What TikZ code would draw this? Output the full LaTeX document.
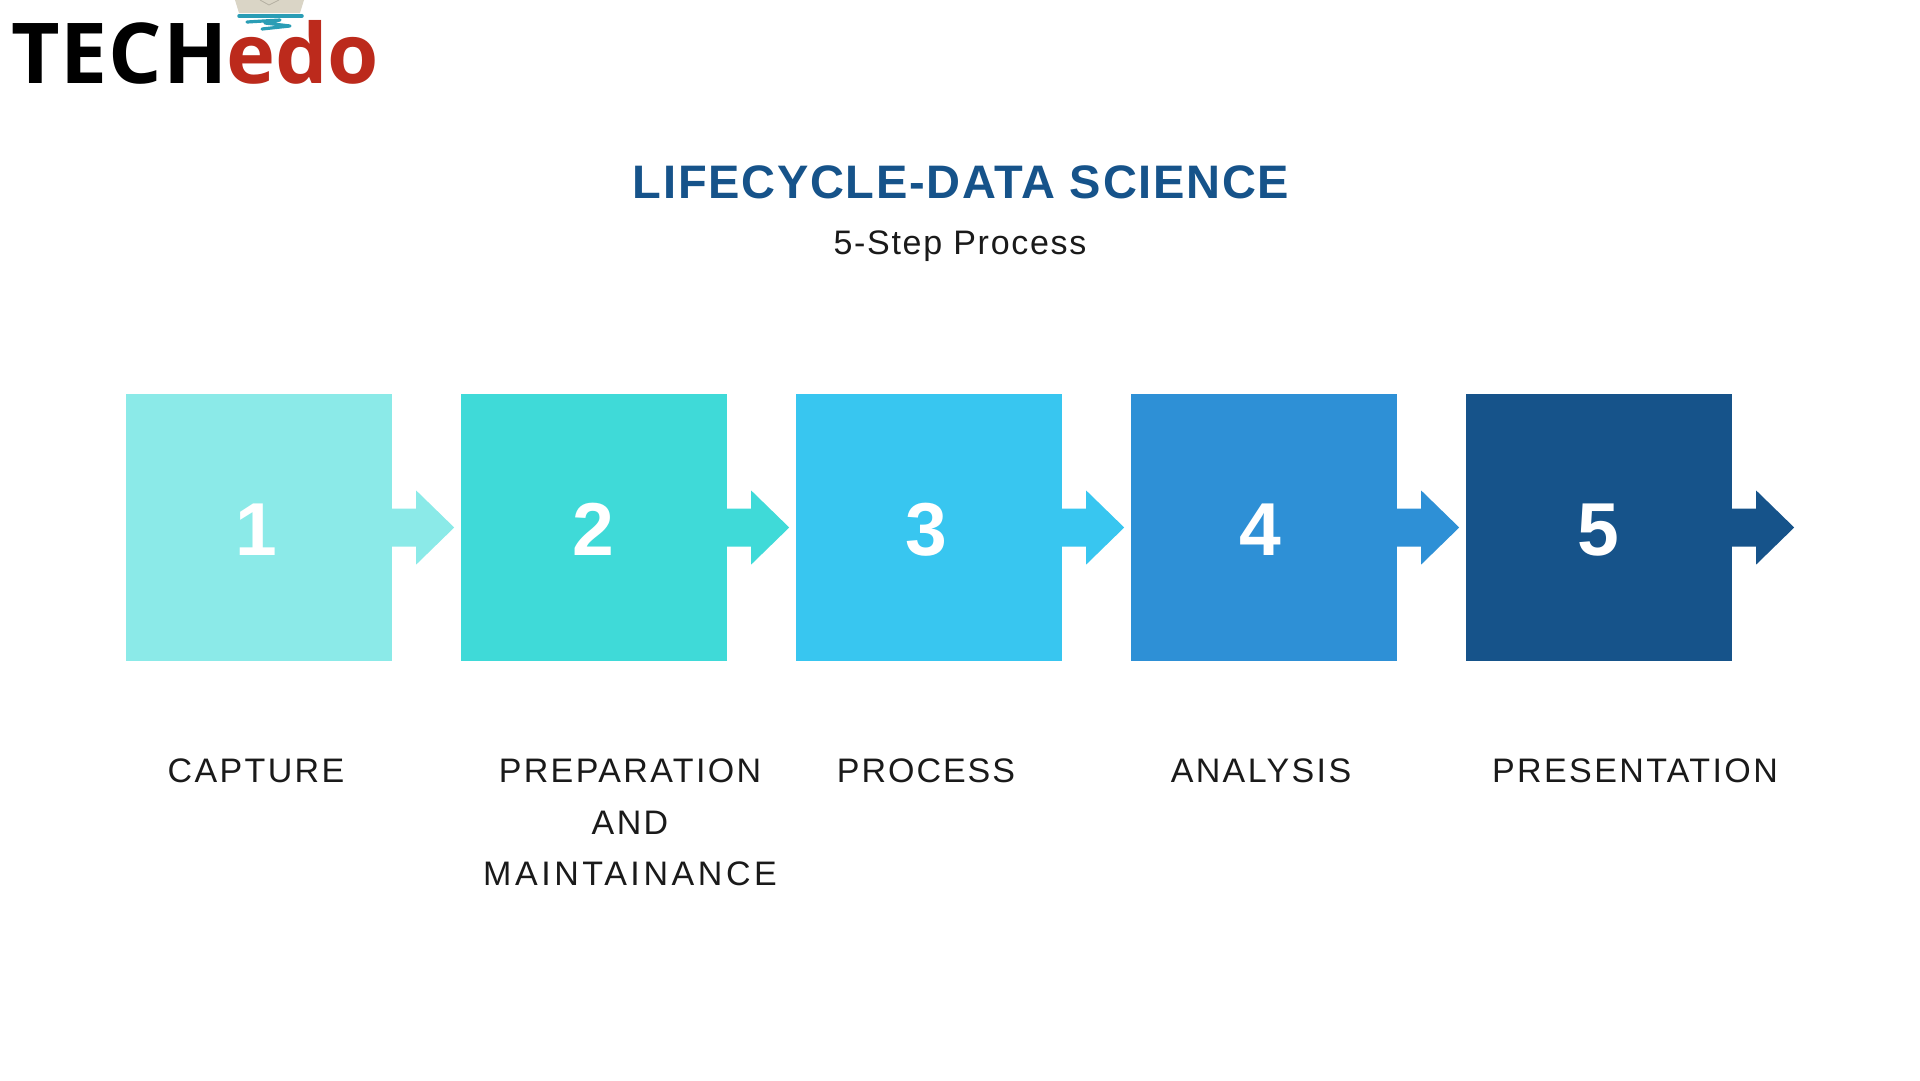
\documentclass[tikz,border=0pt]{standalone}
\usepackage{fontspec}
\setmainfont{Liberation Sans}
\newfontfamily\labelfont[LetterSpace=7]{Liberation Sans}
\newfontfamily\widelabelfont[LetterSpace=10.5]{Liberation Sans}
\newfontfamily\tightlabelfont[LetterSpace=5.8]{Liberation Sans}
\newfontfamily\subfont[LetterSpace=5]{Liberation Sans}
\newfontfamily\titlefont[LetterSpace=3.6]{Liberation Sans}
\newfontfamily\logofont[LetterSpace=1.2]{Open Sans}
\newfontfamily\logofontb{Open Sans}
\definecolor{cA}{HTML}{8BEAE8}
\definecolor{cB}{HTML}{3FDAD8}
\definecolor{cC}{HTML}{38C6F0}
\definecolor{cD}{HTML}{2E90D6}
\definecolor{cE}{HTML}{16538A}
\definecolor{ink}{HTML}{1A1A1A}
\definecolor{logored}{HTML}{BC2A1C}
\definecolor{boat}{HTML}{DAD5C6}
\definecolor{fold}{HTML}{B5B0A2}
\definecolor{wave}{HTML}{2A9DB5}
\tikzset{
  box/.style={rectangle,inner sep=0pt,minimum width=266pt,minimum height=267pt},
  num/.style={anchor=base,text=white,font=\fontsize{75}{75}\selectfont\bfseries},
  lab/.style={anchor=base,text=ink,align=center,font=\fontsize{34}{51.5}\selectfont\labelfont},
}
\newcommand{\steparrow}[2]{%
  \fill[#2] (#1.east) ++(0,-19) -- ++(24,0) -- ++(0,-18) -- ++(38,37) -- ++(-38,37) -- ++(0,-18) -- ++(-24,0) -- cycle;}
\begin{document}
\begin{tikzpicture}[x=1pt,y=-1pt]
\useasboundingbox[fill=white] (0,0) rectangle (1920,1080);
% logo
\fill[boat] (235,0) -- (304,0) -- (300,13) -- (239,13) -- cycle;
\draw[fold,line width=0.8pt] (260,0) -- (269,5) -- (279,0);
\draw[wave,line width=3.5pt,line cap=round] (239,16) -- (302,16);
\draw[wave,line width=3.2pt,line cap=round,line join=round] (247,22) -- (280,20) -- (265,23) -- (290,26) -- (262,29);
\node[anchor=base west,inner sep=0pt,text=black,font=\fontsize{84}{84}\selectfont\logofont\bfseries] (logoa) at (11,83) {TECH};
\node[anchor=base west,inner sep=0pt,text=logored,font=\fontsize{83}{83}\selectfont\logofontb\bfseries] (logob) at (226,83) {edo};
% heading
\node[anchor=base,text=cE,font=\fontsize{47}{47}\selectfont\titlefont\bfseries] (title) at (961,198.5) {LIFECYCLE-DATA SCIENCE};
\node[anchor=base,text=ink,font=\fontsize{34}{34}\selectfont\subfont] (sub) at (960,254.5) {5-Step Process};
% boxes
\node[box,fill=cA] (b1) at (259,527.5) {};
\node[box,fill=cB] (b2) at (594,527.5) {};
\node[box,fill=cC] (b3) at (929,527.5) {};
\node[box,fill=cD] (b4) at (1264,527.5) {};
\node[box,fill=cE] (b5) at (1599,527.5) {};
\steparrow{b1}{cA}
\steparrow{b2}{cB}
\steparrow{b3}{cC}
\steparrow{b4}{cD}
\steparrow{b5}{cE}
% numbers
\node[num] (n1) at (256,555) {1};
\node[num] (n2) at (593,555) {2};
\node[num] (n3) at (926,555) {3};
\node[num] (n4) at (1260,555) {4};
\node[num] (n5) at (1598,555) {5};
% labels
\node[lab] (l1) at (256,782.5) {CAPTURE};
\node[lab] (l2) at (630,885.5) {PREPARATION\\AND\\{\widelabelfont MAINTAINANCE}};
\node[lab] (l3) at (926,782.5) {{\tightlabelfont PROCESS}};
\node[lab] (l4) at (1261,782.5) {ANALYSIS};
\node[lab] (l5) at (1635,782.5) {PRESENTATION};
\end{tikzpicture}
\end{document}
